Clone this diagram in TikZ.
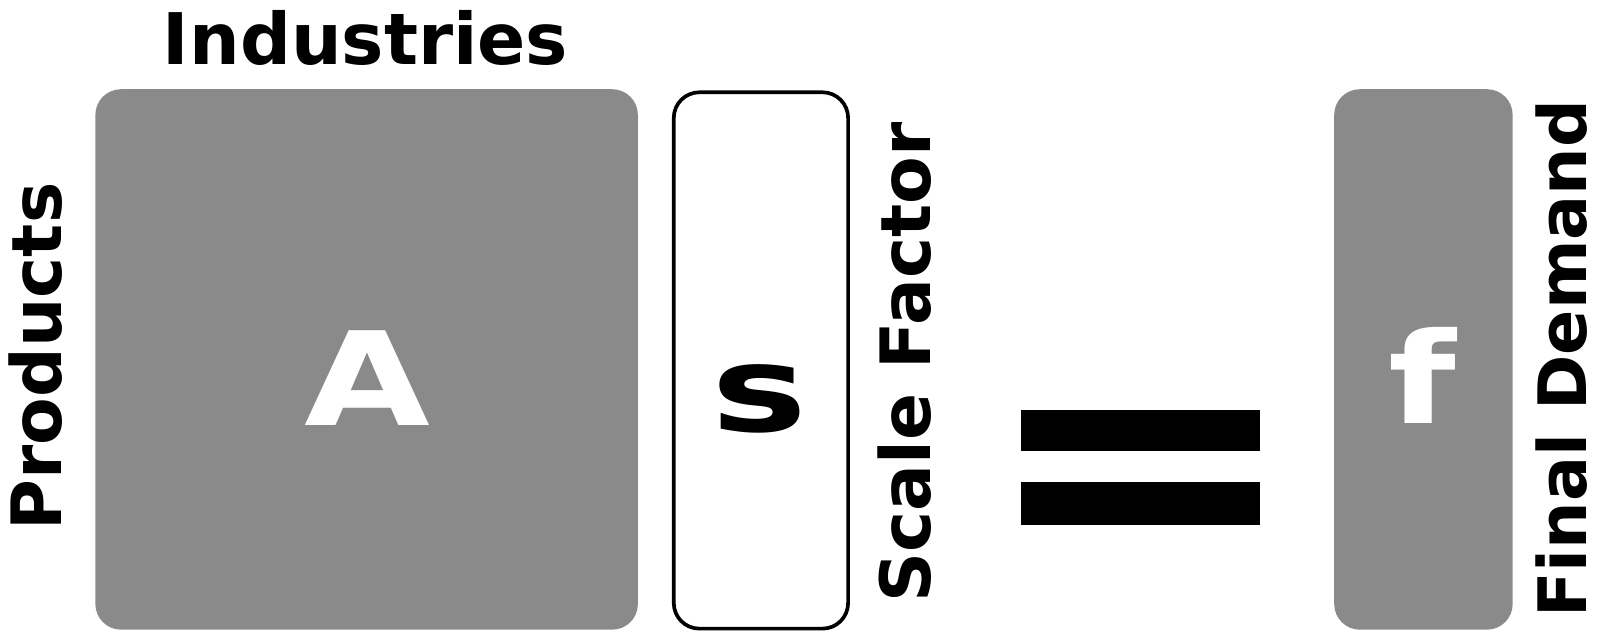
\documentclass[tikz,border=0pt]{standalone}
\usepackage{fontspec}
\setmainfont{DejaVu Sans}
\definecolor{matgray}{HTML}{8A8A8A}
\newdimen\pxu
\pxu=0.020513cm
\begin{document}
\begin{tikzpicture}[x=0.020513cm,y=-0.020513cm,
    block/.style={rounded corners=25\pxu, inner sep=0pt},
    matbox/.style={block, fill=matgray},
    vecbox/.style={block, draw=black, line width=2.1pt, fill=white},
    bar/.style={fill=black, inner sep=0pt, minimum width=233\pxu},
    lbl/.style={font=\fontsize{39.5}{42}\selectfont\bfseries, inner sep=0pt},
    sym/.style={font=\bfseries, inner sep=0pt}]
  \useasboundingbox (0,0) rectangle (1568,619.2);
  % boxes
  \node[matbox, minimum width=529\pxu, minimum height=527\pxu] (Abox) at (357.5,350.5) {};
  \node[vecbox, minimum width=170\pxu, minimum height=523\pxu] (sbox) at (742,351.5) {};
  \node[matbox, minimum width=174\pxu, minimum height=527\pxu] (fbox) at (1388,350.5) {};
  % symbols
  \node[sym, text=white, font=\fontsize{74}{80}\selectfont\bfseries, xscale=1.25] (Aletter) at (358.5,368.5) {A};
  \node[sym, font=\fontsize{68}{74}\selectfont\bfseries, xscale=1.35] (sletter) at (741,388.5) {s};
  \node[sym, text=white, font=\fontsize{72}{78}\selectfont\bfseries, xscale=1.23] (fletter) at (1387,366.5) {f};
  % equals sign
  \node[bar, minimum height=40\pxu] (eqtop) at (1112.5,420) {};
  \node[bar, minimum height=42\pxu] (eqbot) at (1112.5,491) {};
  % labels
  \node[lbl, font=\fontsize{40.5}{43}\selectfont\bfseries] (industries) at (356.5,37) {Industries};
  \node[lbl, rotate=90] (products) at (35,347.5) {Products};
  \node[lbl, rotate=90] (scale) at (882,353.5) {Scale Factor};
  \node[lbl, rotate=90, font=\fontsize{38}{41}\selectfont\bfseries] (demand) at (1523,350) {Final Demand};
\end{tikzpicture}
\end{document}
